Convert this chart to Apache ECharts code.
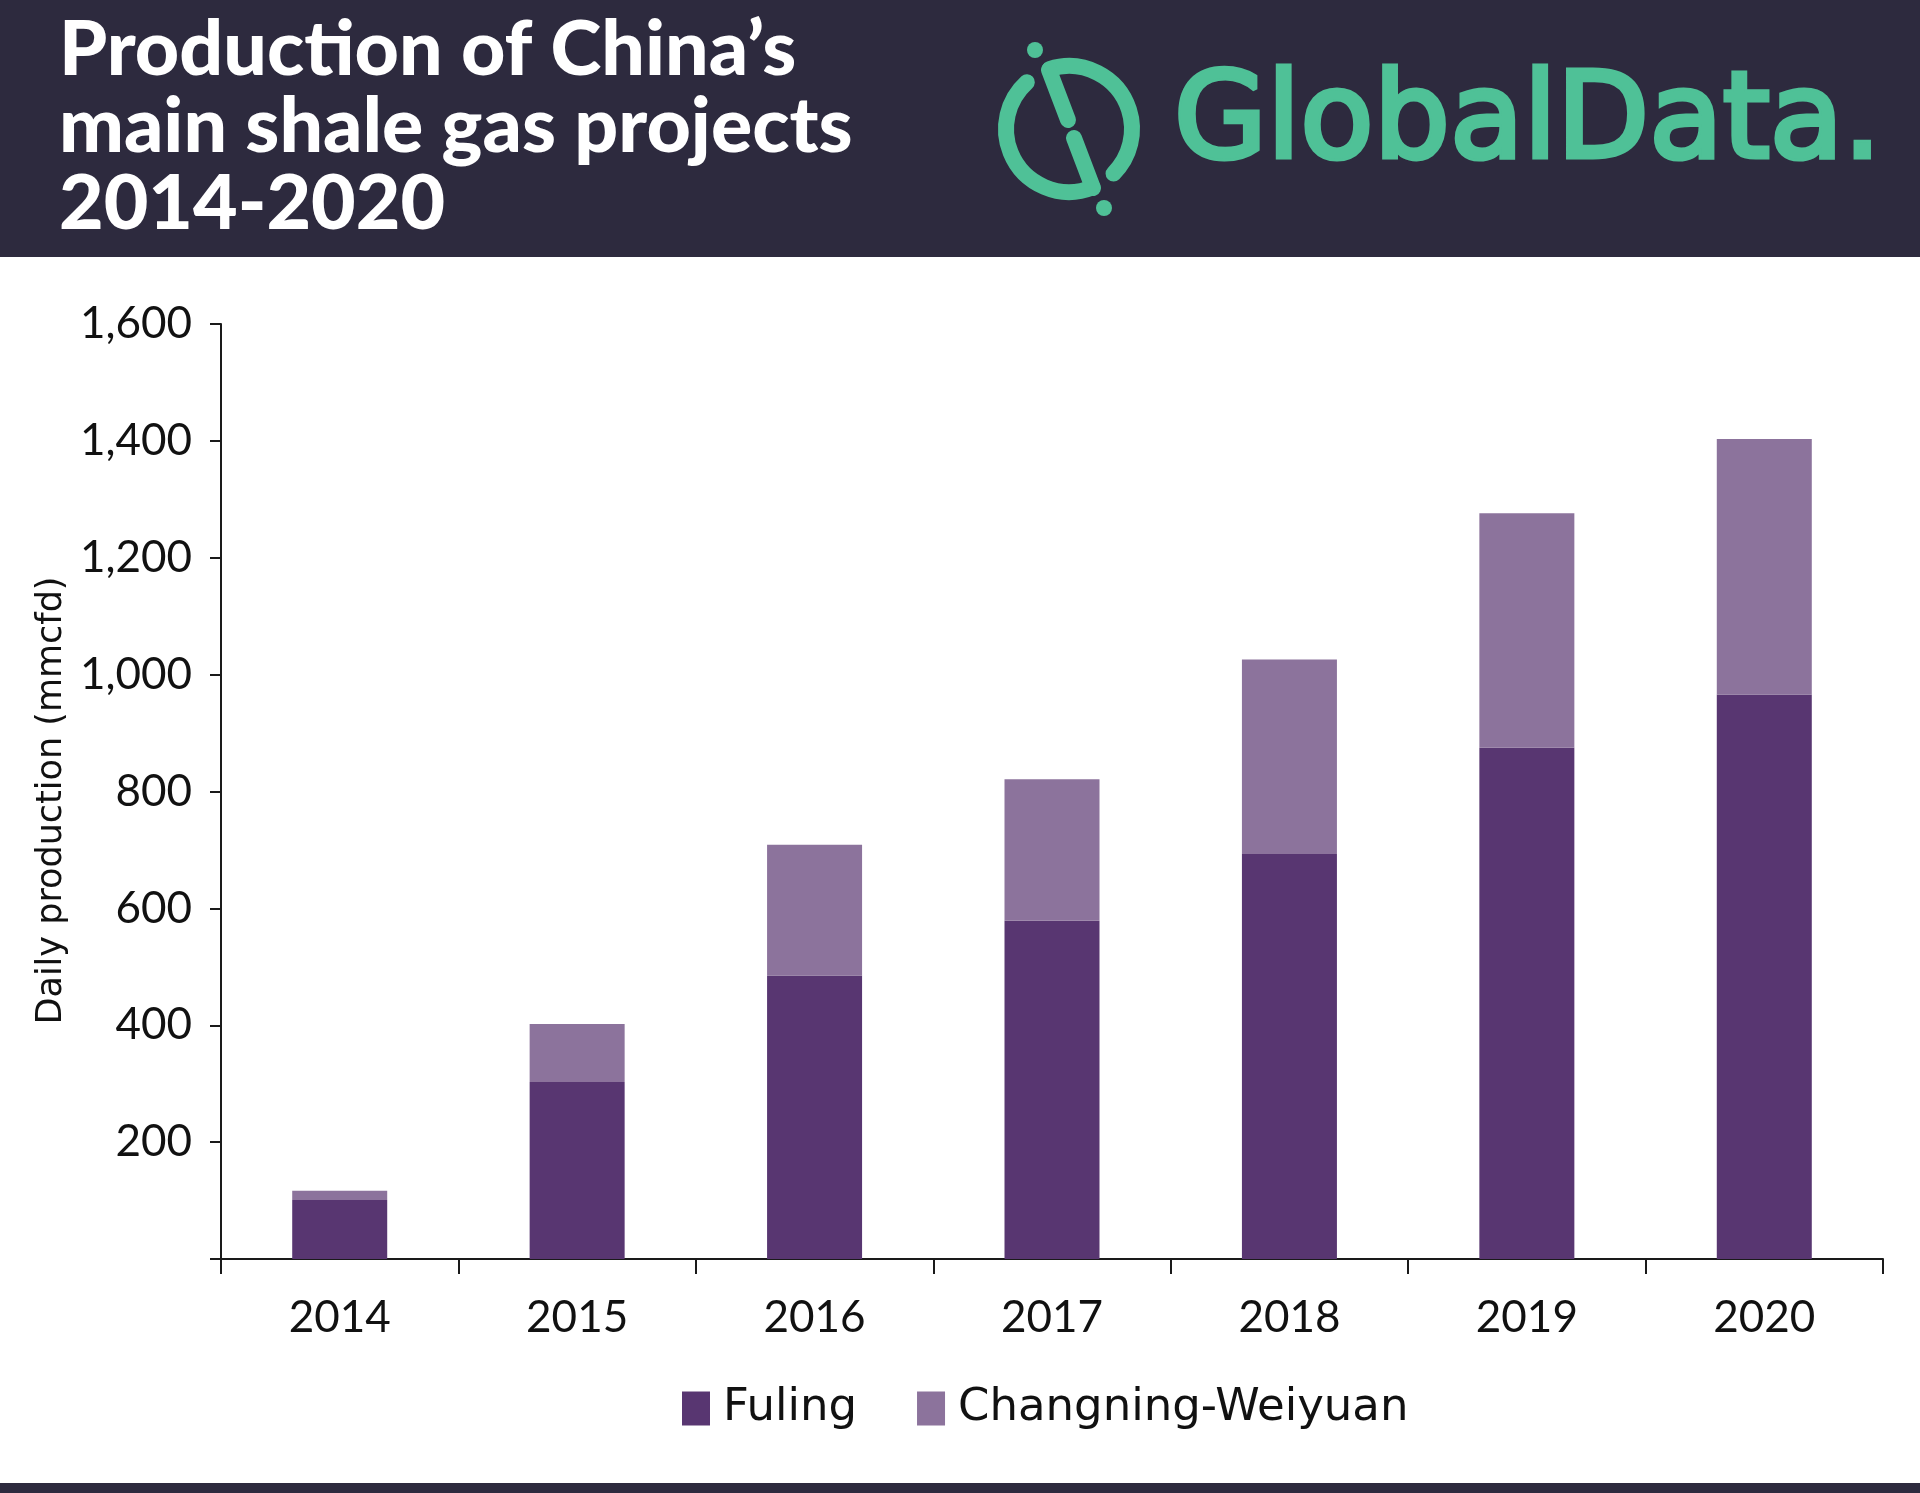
<!DOCTYPE html>
<html>
<head>
<meta charset="utf-8">
<title>Production of China's main shale gas projects 2014-2020</title>
<script src="https://cdn.jsdelivr.net/npm/echarts@6/dist/echarts.min.js"></script>
<style>
  html, body { margin: 0; padding: 0; background: #ffffff; }
  #chart { width: 1920px; height: 1493px; }
</style>
</head>
<body>
<div id="chart"></div>
<script>
// data (mmcfd)
const years = ['2014', '2015', '2016', '2017', '2018', '2019', '2020']
const fuling = [101, 303, 485, 579, 693, 875, 966]
const changning = [16, 99, 224, 242, 333, 401, 437]
const seriesNames = ['Fuling', 'Changning-Weiyuan']

const dark = '#2d2a3e'
const green = '#4fc197'

const getOption = () => {
  return {
    backgroundColor: '#ffffff',
    animation: false,
    title: {
      text: 'Production of China’s\nmain shale gas projects\n2014-2020',
      left: 54,
      top: 7,
      textStyle: {
        color: '#ffffff',
        fontFamily: 'Lato',
        fontWeight: 900,
        fontSize: 77,
        lineHeight: 77
      }
    },
    graphic: [
      // header band and bottom strip
      { type: 'rect', z: -10, shape: { x: 0, y: 0, width: 1920, height: 257 }, style: { fill: dark } },
      { type: 'rect', z: -10, shape: { x: 0, y: 1483, width: 1920, height: 10 }, style: { fill: dark } },
      // logo mark
      {
        type: 'group',
        children: [
          { type: 'arc', shape: { cx: 1069, cy: 129, r: 63, startAngle: -108 * Math.PI / 180, endAngle: 45 * Math.PI / 180, clockwise: true },
            style: { stroke: green, lineWidth: 16, fill: null, lineCap: 'round' } },
          { type: 'arc', shape: { cx: 1069, cy: 129, r: 63, startAngle: 68 * Math.PI / 180, endAngle: 228 * Math.PI / 180, clockwise: true },
            style: { stroke: green, lineWidth: 16, fill: null, lineCap: 'round' } },
          { type: 'line', shape: { x1: 1049, y1: 70, x2: 1068, y2: 120 }, style: { stroke: green, lineWidth: 16, lineCap: 'round' } },
          { type: 'line', shape: { x1: 1074, y1: 138, x2: 1093, y2: 188 }, style: { stroke: green, lineWidth: 16, lineCap: 'round' } },
          { type: 'circle', shape: { cx: 1035, cy: 50, r: 8 }, style: { fill: green } },
          { type: 'circle', shape: { cx: 1104, cy: 208, r: 8 }, style: { fill: green } }
        ]
      },
      {
        type: 'text',
        style: {
          text: 'GlobalData.',
          x: 1174,
          y: 126,
          fill: green,
          stroke: green,
          lineWidth: 5,
          font: '120px "DejaVu Sans"',
          verticalAlign: 'middle'
        }
      }
    ],
    legend: {
      data: seriesNames,
      left: 677,
      top: 1381,
      icon: 'rect',
      itemWidth: 28,
      itemHeight: 34,
      itemGap: 60,
      textStyle: {
        color: '#111111',
        fontFamily: 'DejaVu Sans',
        fontSize: 45,
        padding: [0, 0, 0, 8]
      }
    },
    grid: {
      left: 221,
      right: 37,
      top: 324,
      bottom: 234,
      containLabel: false
    },
    xAxis: {
      type: 'category',
      data: years,
      axisLine: { lineStyle: { color: '#1a1a1a', width: 2 } },
      axisTick: { show: true, length: 15, lineStyle: { color: '#1a1a1a', width: 2 } },
      axisLabel: {
        color: '#111111',
        fontFamily: 'Lato',
        fontSize: 44,
        margin: 37
      }
    },
    yAxis: {
      type: 'value',
      min: 0,
      max: 1600,
      interval: 200,
      name: 'Daily production (mmcfd)',
      nameLocation: 'middle',
      nameGap: 152,
      nameTextStyle: {
        color: '#111111',
        fontFamily: 'DejaVu Sans',
        fontSize: 35,
        padding: [0, 18, 0, 0]
      },
      axisLine: { show: true, lineStyle: { color: '#1a1a1a', width: 2 } },
      axisTick: { show: true, length: 11, lineStyle: { color: '#1a1a1a', width: 2 } },
      splitLine: { show: false },
      axisLabel: {
        color: '#111111',
        fontFamily: 'Lato',
        fontSize: 44,
        margin: 29,
        formatter: (v) => v === 0 ? '' : v.toLocaleString('en-US')
      }
    },
    series: [
      {
        name: seriesNames[0],
        type: 'bar',
        stack: 'total',
        barWidth: 95,
        itemStyle: { color: '#583671' },
        data: fuling
      },
      {
        name: seriesNames[1],
        type: 'bar',
        stack: 'total',
        barWidth: 95,
        itemStyle: { color: '#8c739c' },
        data: changning
      }
    ]
  }
}

window.addEventListener('load', () => {
  const chart = echarts.init(document.getElementById('chart'), null, { renderer: 'canvas' })
  chart.setOption(getOption())
})
</script>
</body>
</html>
